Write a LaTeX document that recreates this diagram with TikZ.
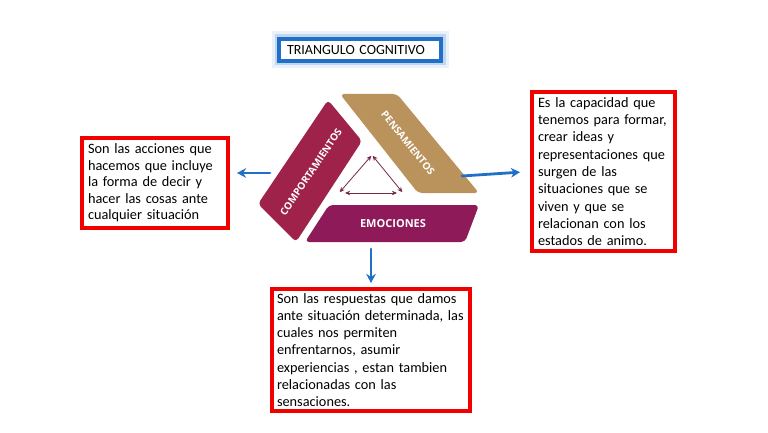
\documentclass[tikz,border=0pt]{standalone}
\usepackage{fontspec}
\setmainfont{Carlito}
\newfontfamily\etiqueta{Open Sans}
\usetikzlibrary{arrows.meta,shadows}
\definecolor{azul}{RGB}{32,112,200}
\definecolor{rojo}{RGB}{242,0,0}
\definecolor{vino}{RGB}{158,34,74}
\definecolor{arena}{RGB}{186,146,92}
\definecolor{ciruela}{RGB}{142,26,90}
\definecolor{granate}{RGB}{120,40,72}

\begin{document}
\begin{tikzpicture}[x=1pt,y=-1pt,>={Stealth[length=3.2mm,width=3.4mm]},line cap=round,
  cuadro/.style={draw=rojo,line width=4pt,fill=white,inner xsep=6pt,align=left,
    font=\fontsize{14.3}{17.3}\selectfont,
    drop shadow={opacity=0.3,shadow xshift=2pt,shadow yshift=-2pt}},
  titulo/.style={draw=azul,line width=3.5pt,fill=white,
    preaction={draw=azul!10,line width=15pt},preaction={draw=azul!28,line width=9pt},
    minimum width=162pt,minimum height=22pt,text width=146pt,inner xsep=8pt,align=left,
    font=\fontsize{14}{16}\selectfont},
  flecha/.style={->,draw=azul,line width=2.8pt},
  doble/.style={{Stealth[length=1.8mm,width=1.6mm]}-{Stealth[length=1.8mm,width=1.6mm]},draw=granate,line width=0.8pt,shorten <=1pt,shorten >=1pt},
  etiq/.style={text=white,inner sep=0pt,font=\etiqueta\bfseries\fontsize{10}{12}\selectfont}]
\useasboundingbox (0,0) rectangle (768,433);

\node[titulo] (tit) at (360,50) {TRIANGULO COGNITIVO};

\fill[vino,rounded corners=4pt] (258,204) -- (328,100) -- (362,141) -- (296,242) -- cycle;
\fill[arena,rounded corners=4pt] (340,94) -- (397,94) -- (479,193) -- (418,193) -- cycle;
\fill[ciruela,rounded corners=4pt] (329,205) -- (479,205) -- (465,242) -- (305,242) -- cycle;

\node[etiq,rotate=56] (tComp) at (311,172) {COMPORTAMIENTOS};
\node[etiq,rotate=-51] (tPens) at (408,143) {PENSAMIENTOS};
\node[etiq,font=\etiqueta\bfseries\fontsize{11}{12}\selectfont] (tEmo) at (393,224) {EMOCIONES};

\coordinate (vS) at (372,155);
\coordinate (vI) at (339,193);
\coordinate (vD) at (403,193);
\draw[doble] (vS) -- (vI);
\draw[doble] (vS) -- (vD);
\draw[doble,shorten <=6pt,shorten >=6pt] (vI) -- (vD);

\node[cuadro,minimum width=146pt,minimum height=90pt,text width=134pt,
  font=\fontsize{14.3}{16.5}\selectfont] (acc) at (155,183)
  {Son las acciones que\\hacemos que incluye\\la forma de decir y\\hacer las cosas ante\\cualquier situación};
\node[cuadro,minimum width=143pt,minimum height=159pt,text width=131pt] (cap) at (603.5,171.5)
  {Es la capacidad que\\tenemos para formar,\\crear ideas y\\representaciones que\\surgen de las\\situaciones que se\\viven y que se\\relacionan con los\\estados de animo.};
\node[cuadro,minimum width=198pt,minimum height=122pt,text width=188pt,inner xsep=5pt] (resp) at (371,350)
  {Son las respuestas que damos\\ante situación determinada, las\\cuales nos permiten\\enfrentarnos, asumir\\experiencias , estan tambien\\relacionadas con las\\sensaciones.};

\coordinate (cIzq) at (270,173);
\coordinate (cDer) at (462,176);
\coordinate (cAba) at (371,249);
\draw[flecha,shorten >=7pt] (cIzq) -- (cIzq -| acc.east);
\draw[flecha,shorten >=10pt] (cDer) -- (cap.west);
\draw[flecha,shorten >=4pt] (cAba) -- (resp.north);
\end{tikzpicture}
\end{document}
